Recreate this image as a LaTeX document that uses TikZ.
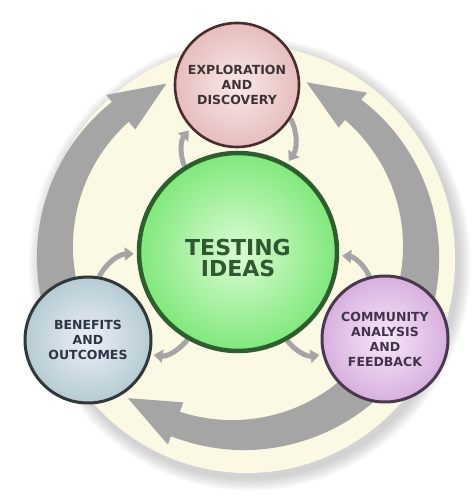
\documentclass[tikz,border=0pt]{standalone}
\usepackage{fontspec}
\setmainfont{DejaVu Sans}
\usetikzlibrary{arrows.meta}

\definecolor{cream}{HTML}{FBF8E4}
\definecolor{arrowgray}{HTML}{A5A5A5}
\definecolor{pinkin}{HTML}{FAE9E9}
\definecolor{pinkout}{HTML}{E6BDBD}
\definecolor{greenin}{HTML}{DDFCD5}
\definecolor{greenout}{HTML}{80E87C}
\definecolor{bluein}{HTML}{ECEFF8}
\definecolor{blueout}{HTML}{B6CBD3}
\definecolor{lilacin}{HTML}{F7E8F7}
\definecolor{lilacout}{HTML}{D7B0DF}

\pgfdeclarelayer{bg}
\pgfsetlayers{bg,main}

% one big curved arrow round the middle: start angle, angle of head base, angle of tip
\newcommand\bigarrow[3]{%
  \fill[arrowgray] plot[domain=#1:#2,samples=40] ({238+(183+hw(\x,#1,#2))*cos(\x)},{243+(183+hw(\x,#1,#2))*sin(\x)})
    -- ({238+205*cos(#2)},{243+205*sin(#2)})
    -- ({238+183*cos(#3)},{243+183*sin(#3)})
    -- ({238+160*cos(#2)},{243+160*sin(#2)})
    -- plot[domain=#2:#1,samples=40] ({238+(183-hw(\x,#1,#2))*cos(\x)},{243+(183-hw(\x,#1,#2))*sin(\x)})
    -- cycle;}

\begin{document}
\begin{tikzpicture}[x=1pt,y=1pt,
    declare function={hw(\t,\a,\b)=21-8*(\t-(\a))/((\b)-(\a));},
    ball/.style={circle,inner sep=0pt,align=center,font=\bfseries\fontsize{12.5}{15}\selectfont},
    smallarrow/.style={draw=arrowgray,line width=5pt,-{Triangle[width=13pt,length=9pt]},shorten >=3pt}]
  \useasboundingbox (0,0) rectangle (474,495);

  \node[ball,minimum size=198pt,line width=4.5pt,draw={rgb,255:red,46;green,94;blue,46},
        inner color=greenin,outer color=greenout,text={rgb,255:red,47;green,90;blue,49},
        font=\bfseries\fontsize{22}{21.5}\selectfont] (ctr) at (238,243) {\rule{0pt}{28pt}TESTING\\IDEAS};
  \node[ball,minimum size=124pt,line width=2.6pt,draw={rgb,255:red,75;green,45;blue,45},
        inner color=pinkin,outer color=pinkout,text={rgb,255:red,62;green,51;blue,53}] (top) at (237,410) {EXPLORATION\\AND\\DISCOVERY};
  \node[ball,minimum size=126pt,line width=3pt,draw={rgb,255:red,48;green,56;blue,58},
        inner color=bluein,outer color=blueout,text={rgb,255:red,46;green,54;blue,68}] (lft) at (88,155) {BENEFITS\\AND\\OUTCOMES};
  \node[ball,minimum size=126pt,line width=3pt,draw={rgb,255:red,74;green,56;blue,80},
        inner color=lilacin,outer color=lilacout,text={rgb,255:red,66;green,51;blue,79}] (rgt) at (385,156) {COMMUNITY\\ANALYSIS\\AND\\FEEDBACK};

  \begin{pgfonlayer}{bg}
    % soft shadow and cream backdrop
    \foreach \i in {1,...,8}
      \fill[black,opacity=0.025] (250,231) ellipse ({208+1.6*\i} and {214+1.6*\i});
    \fill[cream] (247,236) ellipse (208 and 214);
    % outer cycle
    \bigarrow{210}{130}{113}
    \bigarrow{-30}{51}{68}
    \bigarrow{-30}{-110}{-127}
    % to and from the centre
    \draw[smallarrow] (ctr.122) to[bend left=30] (top.223);
    \draw[smallarrow] (top.328) to[bend left=30] (ctr.61);
    \draw[smallarrow] (lft.80) to[bend left=30] (ctr.181);
    \draw[smallarrow] (ctr.240) to[bend left=30] (lft.347);
    \draw[smallarrow] (rgt.104) to[bend right=30] (ctr.358);
    \draw[smallarrow] (ctr.299) to[bend right=30] (rgt.194);
  \end{pgfonlayer}
\end{tikzpicture}
\end{document}
